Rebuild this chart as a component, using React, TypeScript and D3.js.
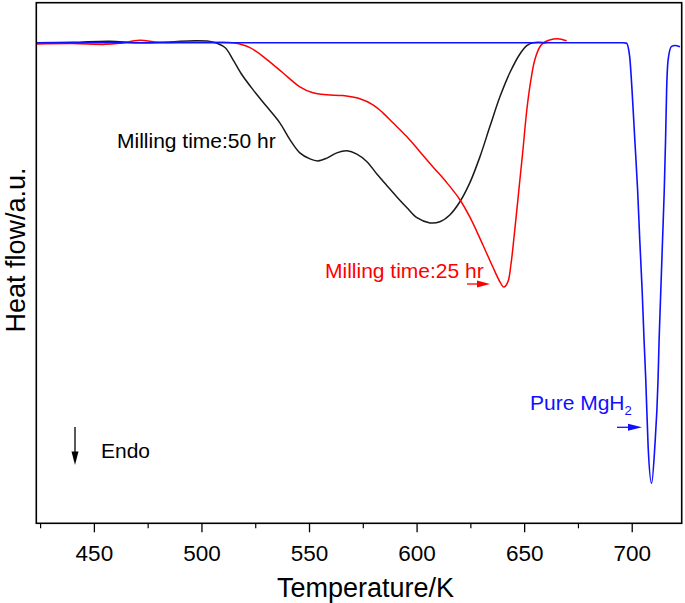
import * as d3 from 'd3';

// DSC traces, [temperature K, heat flow a.u.] (0 = baseline, negative = endothermic)
const mill50: [number, number][] = [
  [423, 0], [440, 0.01], [457, 0.04], [470, 0], [485, 0.02], [497, 0.05], [505, 0.02],
  [510.7, -0.12], [514.4, -0.42], [518.6, -0.8], [523.7, -1.17], [530.2, -1.6],
  [536.2, -2.0], [540.9, -2.42], [545.5, -2.75], [550.2, -2.9], [553.9, -2.95],
  [558.1, -2.88], [562.7, -2.75], [567.4, -2.7], [572, -2.78], [576.7, -2.97],
  [581.3, -3.28], [586, -3.57], [590.6, -3.85], [595.3, -4.12], [599.9, -4.37],
  [606, -4.5], [610.6, -4.47], [615.2, -4.3], [619.9, -3.97], [624.5, -3.5],
  [629.2, -2.85], [633.8, -2.1], [638.5, -1.35], [643.1, -0.75], [647.8, -0.28],
  [651, -0.07], [653.8, 0], [660, 0],
];

const mill25: [number, number][] = [
  [423, -0.03], [440, -0.02], [455, -0.04], [462, -0.01], [471, 0.06], [480, 0.01],
  [495, 0.02], [505, 0.01], [514.4, 0], [522.3, -0.12], [530.2, -0.42], [537.6, -0.75],
  [545.5, -1.1], [551.6, -1.25], [558.1, -1.3], [565.5, -1.32], [573.4, -1.4],
  [579.5, -1.55], [584.1, -1.75], [588.8, -2.0], [595.3, -2.35], [601.3, -2.72],
  [607.4, -3.1], [613.9, -3.5], [619.9, -3.92], [624.5, -4.35], [630.6, -5.05],
  [635.2, -5.6], [638.5, -5.97], [640.3, -6.1], [642.2, -5.97], [643.6, -5.55],
  [645.4, -4.68], [647.3, -3.68], [649.2, -2.68], [651, -1.68], [652.9, -0.93],
  [654.7, -0.43], [657.1, -0.1], [659.4, 0.02], [661.6, 0.07], [665.3, 0.1], [669.5, 0.05],
];

const pureMgH2: [number, number][] = [
  [423, 0], [695.6, 0], [697.3, -0.01], [698.8, -0.34], [699.9, -1.17], [701.2, -2.42],
  [702.5, -3.67], [703.5, -4.92], [704.6, -6.17], [705.5, -7.42], [706.3, -8.42],
  [707.4, -10.09], [709, -11.0], [710.5, -10.09], [712, -8.42], [712.5, -7.42],
  [713.3, -6.17], [714.1, -4.92], [714.9, -3.67], [715.5, -2.42], [716, -1.17],
  [716.7, -0.42], [718.3, -0.09], [719.8, -0.07], [722.2, -0.1],
];

const majorTicks = [450, 500, 550, 600, 650, 700];
const minorTicks = [425, 475, 525, 575, 625, 675];

const W = 685;
const H = 603;
const left = 36.3, right = 681.7, top = 2.7, bottom = 523.3;
const font = '"Liberation Sans", Arial, Helvetica, sans-serif';

export default function App() {
  const x = d3.scaleLinear().domain([423, 723]).range([left, right]);
  const y = d3.scaleLinear().domain([-12, 1]).range([bottom, top]);
  const smooth = d3.line<[number, number]>()
    .x(d => x(d[0]))
    .y(d => y(d[1]))
    .curve(d3.curveCatmullRom.alpha(0.5));
  const sharp = d3.line<[number, number]>()
    .x(d => x(d[0]))
    .y(d => y(d[1]))
    .curve(d3.curveMonotoneX);

  return (
    <svg width={W} height={H} style={{ position: 'absolute', left: 0, top: 0, background: '#fff' }}
      fontFamily={font}>
      <path d={smooth(mill50) ?? ''} fill="none" stroke="#1a1a1a" strokeWidth={1.5} />
      <path d={smooth(mill25) ?? ''} fill="none" stroke="#ff0000" strokeWidth={1.5} />
      <path d={sharp(pureMgH2) ?? ''} fill="none" stroke="#1010ff" strokeWidth={1.6} />

      <rect x={left} y={top} width={right - left} height={bottom - top}
        fill="none" stroke="#000" strokeWidth={1.6} />

      {majorTicks.map(t => (
        <g key={t}>
          <line x1={x(t)} x2={x(t)} y1={bottom} y2={bottom + 9} stroke="#000" strokeWidth={1.3} />
          <text x={x(t)} y={560.5} textAnchor="middle" fontSize={22.5}>{t}</text>
        </g>
      ))}
      {minorTicks.map(t => (
        <line key={t} x1={x(t)} x2={x(t)} y1={bottom} y2={bottom + 5} stroke="#000" strokeWidth={1.2} />
      ))}

      <text x={365.5} y={597} textAnchor="middle" fontSize={27}>Temperature/K</text>
      <text transform="translate(25,250) rotate(-90)" textAnchor="middle" fontSize={27}>Heat flow/a.u.</text>

      {/* annotations */}
      <text x={117} y={148} fontSize={21}>Milling time:50 hr</text>
      <text x={325} y={277.5} fontSize={21} fill="#ff0000">Milling time:25 hr</text>
      <line x1={467} x2={478} y1={284} y2={284} stroke="#ff0000" strokeWidth={1.3} />
      <path d="M477,280.5 L490,284 L477,287.5 Z" fill="#ff0000" />

      <text x={530} y={410} fontSize={21} fill="#1010ff">
        Pure MgH<tspan fontSize={13} dy={5}>2</tspan>
      </text>
      <line x1={617} x2={629} y1={427.3} y2={427.3} stroke="#1010ff" strokeWidth={1.3} />
      <path d="M628,423.8 L642,427.3 L628,430.8 Z" fill="#1010ff" />

      <line x1={75} x2={75} y1={427} y2={453} stroke="#000" strokeWidth={1.3} />
      <path d="M71.5,451.5 L75,465 L78.5,451.5 Z" fill="#000" />
      <text x={101} y={457.5} fontSize={21}>Endo</text>
    </svg>
  );
}
